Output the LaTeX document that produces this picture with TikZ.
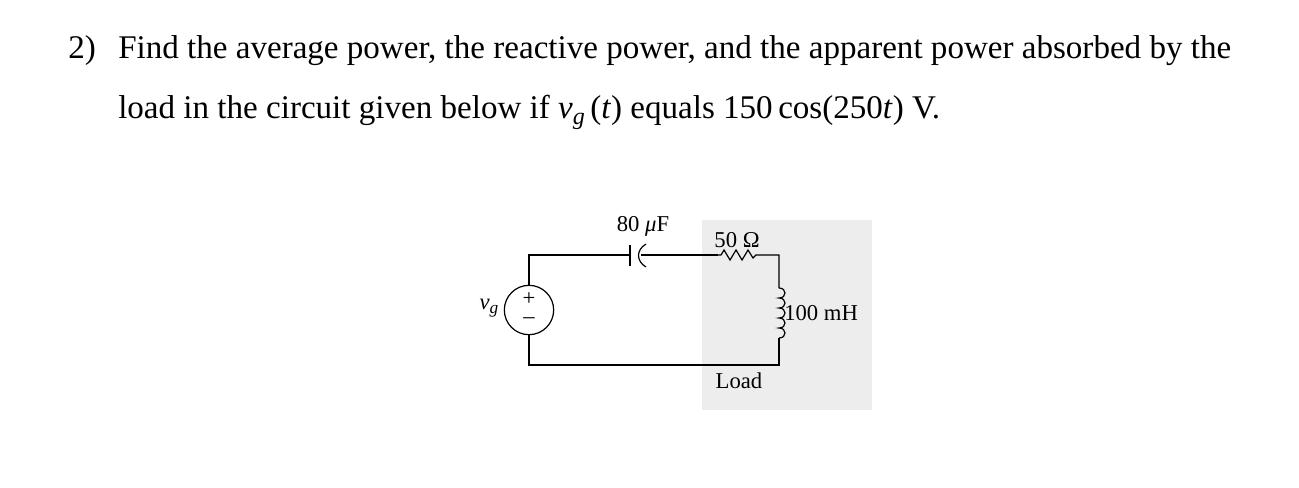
\documentclass[tikz,border=0pt]{standalone}
\usepackage{fontspec}
\setmainfont{Liberation Serif}
\begin{document}
\begin{tikzpicture}[x=0.75pt,y=-0.75pt,
  wire/.style={line width=0.9pt},
  lbl/.style={font=\fontsize{17}{19}\selectfont, inner sep=0pt},
  txt/.style={font=\fontsize{24.8}{28}\selectfont, anchor=base west, inner sep=0pt}]
\useasboundingbox (0,0) rectangle (1299,487);
\fill[black!7] (702,220) rectangle (872,410);
\node[txt] (n2) at (68,58) {2)};
\node[txt] (l1) at (118,58) {Find the average power, the reactive power, and the apparent power absorbed by the};
\node[txt] (l2) at (118,118) {load in the circuit given below if \textit{v}\raisebox{-5pt}{\fontsize{18}{20}\selectfont\textit{g}}\,(\textit{t}) equals 150\,cos(250\textit{t}) V.};
% nodes
\coordinate (tl) at (529,255);
\coordinate (bl) at (529,365);
\coordinate (tr) at (779,255);
\coordinate (br) at (779,365);
\node[circle,draw,line width=0.9pt,minimum size=37pt,inner sep=0pt] (src) at (529,310) {};
\node[lbl] at (529,299) {+};
\node[lbl] at (529,321) {--};
\coordinate (c1) at (630,255);
\coordinate (c2) at (641,255);
\coordinate (r1) at (718,255);
\coordinate (r2) at (756,255);
\coordinate (i1) at (779,288);
\coordinate (i2) at (779,338);
\draw[wire] (src.north) -- (tl) -- (c1);
\draw[wire] (630,245) -- (630,266);
\draw[wire] (646,244) .. controls (636,250) and (636,261) .. (646,267);
\draw[wire] (c2) -- (r1);
\draw[wire] (r1) -- (721,255) -- (724,250) -- (730,260) -- (736,250) -- (742,260) -- (748,250) -- (753,258) -- (r2) -- (tr) -- (i1);
\draw[wire] (i1)
  .. controls (787,288) and (787,298) .. (779,298)
  .. controls (787,298) and (787,308) .. (779,308)
  .. controls (787,308) and (787,318) .. (779,318)
  .. controls (787,318) and (787,328) .. (779,328)
  .. controls (787,328) and (787,338) .. (i2);
\draw[wire] (i2) -- (br) -- (bl) -- (src.south);
\node[lbl] (vg) at (489,308) {\textit{v}\raisebox{-3pt}{\fontsize{13}{14}\selectfont\textit{g}}};
\node[lbl] (cl) at (643,226) {80 \textit{μ}F};
\node[lbl] (rl) at (737,240) {50 Ω};
\node[lbl,anchor=west] (il) at (784,313) {100 mH};
\node[lbl] (ld) at (739,381) {Load};
\end{tikzpicture}
\end{document}
